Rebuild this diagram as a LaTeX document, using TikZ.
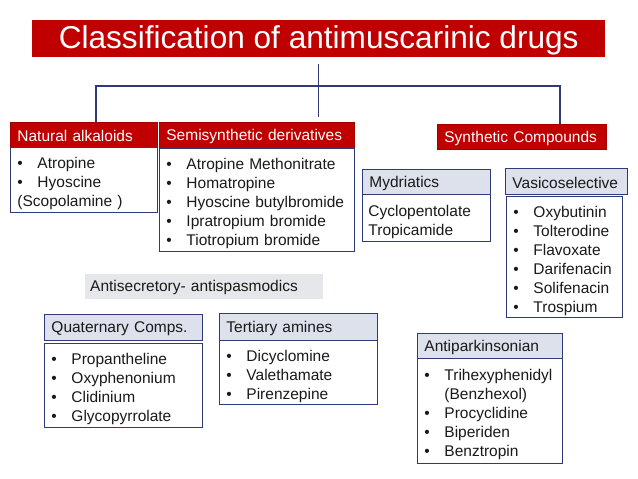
\documentclass[tikz,border=0pt]{standalone}
\usepackage{fontspec}
\setmainfont{Liberation Sans}
\definecolor{hdrred}{HTML}{C00000}
\definecolor{navy}{HTML}{2E3B78}
\definecolor{lightfill}{HTML}{DDE1EB}
\definecolor{graylabel}{HTML}{E6E7EB}
\definecolor{txt}{HTML}{1A1A1A}
\newcommand{\bl}[1]{\makebox[20pt][l]{•}#1}
\begin{document}
\begin{tikzpicture}[x=1pt,y=-1pt,
  box/.style={anchor=north west, inner xsep=7pt, inner ysep=0pt, align=left,
    font=\fontsize{15.5}{19}\selectfont, text=txt},
  redhdr/.style={box, fill=hdrred, draw=hdrred!85!black, line width=0.8pt, text=white, text height=13.5pt},
  lighthdr/.style={box, fill=lightfill, draw=navy, line width=0.9pt, text height=13.5pt},
  bodybox/.style={box, fill=white, draw=navy, line width=0.9pt, text height=19pt},
  conn/.style={draw=navy, line width=1.3pt}]
\useasboundingbox (0,0) rectangle (638,479);

\node[anchor=north west, fill=hdrred, minimum width=573pt, minimum height=37pt,
  inner sep=0pt, text=white, text height=25pt, text depth=6pt, font=\fontsize{31.6}{36}\selectfont] (title) at (32,20)
  {Classification of antimuscarinic drugs};

% top level
\node[redhdr, minimum width=147pt, minimum height=25pt, text width=133pt] (nat) at (10,122) {Natural alkaloids};
\node[bodybox, minimum width=147pt, minimum height=65pt, text width=133pt] (natb) at (10,147)
  {\bl{Atropine}\\\bl{Hyoscine}\\(Scopolamine )};

\node[redhdr, minimum width=195pt, minimum height=26pt, text width=181pt] (semi) at (159,122) {Semisynthetic derivatives};
\node[bodybox, minimum width=195pt, minimum height=103pt, text width=181pt] (semib) at (159,148)
  {\bl{Atropine Methonitrate}\\\bl{Homatropine}\\\bl{Hyoscine butylbromide}\\\bl{Ipratropium bromide}\\\bl{Tiotropium bromide}};

\node[redhdr, minimum width=169pt, minimum height=25pt, text width=155pt] (syn) at (437,124) {Synthetic Compounds};

% connectors
\coordinate (hl) at (96,86);
\coordinate (hr) at (560,86);
\draw[conn] ([yshift=-7pt]title.south) -- ([yshift=5pt]title.south |- semi.north);
\draw[conn] (hl |- nat.north) -- (hl) -- (hr) -- (hr |- syn.north);

% synthetic sub-groups
\node[lighthdr, minimum width=128pt, minimum height=25pt, text width=114pt] (myd) at (362,169) {Mydriatics};
\node[bodybox, inner xsep=6pt, minimum width=128pt, minimum height=47pt, text width=116pt] (mydb) at (362,194)
  {Cyclopentolate\\Tropicamide};

\node[lighthdr, minimum width=122pt, minimum height=26pt, text width=108pt] (vas) at (505,168) {Vasicoselective};
\node[bodybox, minimum width=116pt, minimum height=121pt, text width=102pt] (vasb) at (506,196)
  {\bl{Oxybutinin}\\\bl{Tolterodine}\\\bl{Flavoxate}\\\bl{Darifenacin}\\\bl{Solifenacin}\\\bl{Trospium}};

\node[box, fill=graylabel, inner xsep=5pt, minimum width=238pt, minimum height=25pt, text width=228pt, text height=13.5pt] (anti) at (85,274)
  {Antisecretory- antispasmodics};

\node[lighthdr, minimum width=158pt, minimum height=26pt, text width=144pt] (quat) at (44,314) {Quaternary Comps.};
\node[bodybox, minimum width=158pt, minimum height=84pt, text width=144pt] (quatb) at (44,343)
  {\bl{Propantheline}\\\bl{Oxyphenonium}\\\bl{Clidinium}\\\bl{Glycopyrrolate}};

\node[lighthdr, minimum width=158pt, minimum height=27pt, text width=144pt] (tert) at (219,313) {Tertiary amines};
\node[bodybox, minimum width=158pt, minimum height=64pt, text width=144pt] (tertb) at (219,340)
  {\bl{Dicyclomine}\\\bl{Valethamate}\\\bl{Pirenzepine}};

\node[lighthdr, minimum width=145pt, minimum height=25pt, text width=131pt] (park) at (417,333) {Antiparkinsonian};
\node[bodybox, minimum width=145pt, minimum height=105pt, text width=131pt] (parkb) at (417,358)
  {\bl{Trihexyphenidyl}\\\hspace*{20pt}(Benzhexol)\\\bl{Procyclidine}\\\bl{Biperiden}\\\bl{Benztropin}};
\end{tikzpicture}
\end{document}
